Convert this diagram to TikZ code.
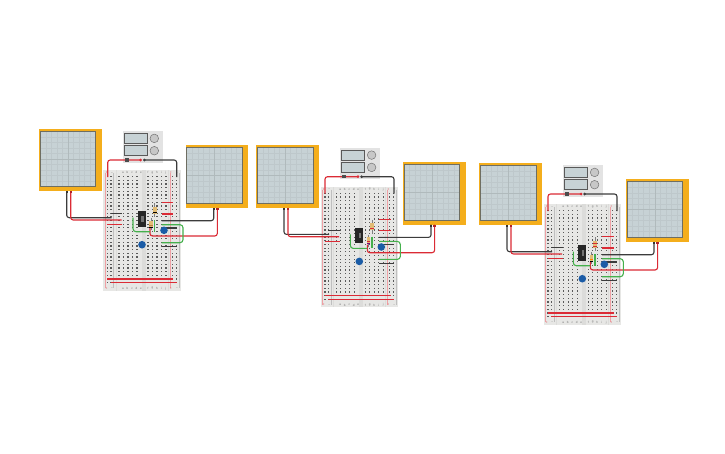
\documentclass[tikz,border=0pt]{standalone}
\usepackage{fontspec}
\setmainfont{Liberation Sans}
\definecolor{scopeor}{HTML}{F4AE1C}
\definecolor{screenc}{HTML}{C7D2D5}
\definecolor{framec}{HTML}{6E6E62}
\definecolor{gridc}{HTML}{B0BABC}
\definecolor{wred}{HTML}{DB2B35}
\definecolor{wblack}{HTML}{3C3C3C}
\definecolor{wgreen}{HTML}{45B04C}
\definecolor{ledblue}{HTML}{1B5CA6}
\definecolor{boardc}{HTML}{E7E7E5}
\definecolor{stripc}{HTML}{DCDCDA}
\definecolor{holec}{HTML}{5A5A5A}
\definecolor{psuc}{HTML}{E3E3E3}
\definecolor{restan}{HTML}{E2BC74}
\tikzset{
 x=1pt,y=-1pt,
 scopebody/.style={fill=scopeor,draw=none,minimum size=62.6pt,inner sep=0pt},
 scopescreen/.style={fill=screenc,draw=none,minimum size=55.2pt,inner sep=0pt},
 wirer/.style={draw=wred,line width=1.1pt,rounded corners=2.5pt},
 wireb/.style={draw=wblack,line width=1.1pt,rounded corners=2.5pt},
 wireg/.style={draw=wgreen,line width=1.1pt,rounded corners=3pt},
 led/.style={circle,fill=ledblue,draw=none,minimum size=7.6pt,inner sep=0pt},
 chip/.style={fill=black!85,draw=none,minimum width=8pt,minimum height=15.4pt,inner sep=0pt},
 resist/.style={fill=restan,draw=none,minimum width=3.6pt,minimum height=7pt,inner sep=0pt},
 tinylab/.style={font=\fontsize{3}{3.5}\selectfont,text=black!55,inner sep=0pt},
 tinyred/.style={font=\fontsize{3}{3.5}\selectfont,text=wred,inner sep=0pt},
 disp/.style={fill=screenc,draw=black!65,line width=.8pt,minimum width=23.4pt,minimum height=10pt,inner sep=0pt},
 knob/.style={circle,fill=black!22,draw=black!55,line width=.5pt,minimum size=8.6pt,inner sep=0pt},
}
\newcommand{\scopeat}[3]{%
  \node[scopebody] (#1b) at (#2,#3) {};
  \node[scopescreen] (#1s) at ([xshift=-2.5pt,yshift=1.1pt]#1b.center) {};
  \foreach \k in {1,...,9}{\draw[gridc!40!screenc,line width=.15pt]
     ([yshift=-5.52*\k pt]#1s.north west)--([yshift=-5.52*\k pt]#1s.north east)
     ([xshift=5.52*\k pt]#1s.north west)--([xshift=5.52*\k pt]#1s.south west);}
  \draw[gridc,line width=.3pt] (#1s.west)--(#1s.east) (#1s.north)--(#1s.south);
  \draw[framec,line width=.9pt] (#1s.north west) rectangle (#1s.south east);
}
\newcommand{\circuit}[5]{%
\begin{scope}[shift={(#2,#3)}]
  \scopeat{#1sa}{70.4}{160}
  \scopeat{#1sb}{217}{176.7}
  \node[fill=psuc,draw=none,minimum width=40pt,minimum height=31.6pt,inner sep=0pt] (#1psu) at (142.7,146.8) {};
  \node[disp] (#1da) at (135.6,138.4) {};
  \node[disp] (#1db) at (135.6,150.5) {};
  \node[knob] (#1ka) at (154.3,138.4) {};
  \node[knob] (#1kb) at (154.3,150.7) {};
  \node[fill=boardc,draw=none,minimum width=77.4pt,minimum height=120.7pt,inner sep=0pt] (#1bb) at (142,230.35) {};
  \fill[stripc] (115.6,170) rectangle (116.6,290.7);
  \fill[stripc] (142,170) rectangle (146,290.7);
  \fill[stripc] (167.5,170) rectangle (168.5,290.7);
  \draw[wred!45,line width=.4pt] (104.8,173)--(104.8,288);
  \draw[black!25,line width=.4pt] (113.6,173)--(113.6,288);
  \draw[wred!45,line width=.4pt] (170.2,173)--(170.2,288);
  \draw[black!25,line width=.4pt] (179.2,173)--(179.2,288);
  \foreach \c in {107.7,111,119,123.5,128,132.5,137,148,152.5,157,161.5,166,172.5,176.5}{
   \foreach \r in {0,...,29}{\fill[holec] (\c-.6,176.7+3.65*\r-.6) rectangle (\c+.6,176.7+3.65*\r+.6);}}
  \foreach \y/\n in {172.6/t,288.4/u}{
   \foreach \c/\t in {123/a,127.5/b,132/c,136.5/d,141/e,148/f,152.5/g,157/h,161.5/i,166/j}{
    \node[tinylab] (#1l\t\n) at (\c,\y) {\t};}
   \node[tinyred] (#1pa\n) at (106.5,\y) {+};
   \node[tinylab] (#1ma\n) at (112,\y) {–};
   \node[tinyred] (#1pb\n) at (171,\y) {+};
   \node[tinylab] (#1mb\n) at (177,\y) {–};}
  \coordinate (#1at) at (66.7,191.3); \coordinate (#1ar) at (70.7,191.3);
  \coordinate (#1bt) at (213.7,208); \coordinate (#1br) at (217.3,208);
  \coordinate (#1pr) at (140.7,160); \coordinate (#1pk) at (144.3,160);
  \coordinate (#1rt) at (107.7,177); \coordinate (#1rk) at (176.7,177);
  \coordinate (#1ab) at (111.7,217.7); \coordinate (#1ae) at (121.7,220);
  \coordinate (#1bb1) at (161.7,220.7); \coordinate (#1bb2) at (150,228);
  \draw[wireb] (#1at) |- (#1ab);
  \draw[wirer] (#1ar) |- (#1ae);
  \draw[wireb] (#1bt) |- (#1bb1);
  \draw[wirer] (#1br) |- (150,236) -- (#1bb2);
  \draw[wirer] (#1rt) |- (#1pr);
  \draw[wireb] (#1pk) -| (#1rk);
  \fill[black!80] ([xshift=-1.2pt]#1at) rectangle ([xshift=1.2pt,yshift=-2pt]#1at);
  \fill[wred!80!black] ([xshift=-1.2pt]#1ar) rectangle ([xshift=1.2pt,yshift=-2pt]#1ar);
  \fill[black!80] ([xshift=-1.2pt]#1bt) rectangle ([xshift=1.2pt,yshift=-2pt]#1bt);
  \fill[wred!80!black] ([xshift=-1.2pt]#1br) rectangle ([xshift=1.2pt,yshift=-2pt]#1br);
  \fill[black!70] (125,158.3) rectangle (129,161.7);
  \fill[wred] (140.7,160) circle (1.5pt);
  \fill[wblack] (144.3,160) circle (1.5pt);
  \draw[wireb] (111,213.7)--(122.3,213.7);
  \draw[wirer] (107.3,224.7)--(122.3,224.7);
  \draw[wirer] (162,202.7)--(173.3,202.7);
  \draw[wirer] (162,214)--(173.3,214);
  \draw[wireb] (161.7,228)--(176.7,228);
  \draw[wireb] (161.7,246.7)--(176.7,246.7);
  \draw[wirer] (107.3,279)--(173.3,279);
  \draw[wirer] (111,282.7)--(176.7,282.7);
  \draw[wireg] (133,217.7) |- (150,231.7);
  \draw[wireg] (154.7,220)--(154.7,231.7);
  \draw[wireg] (161.7,224.7) -| (183,242.7) -- (161.7,242.7);
  \node[chip] (#1ic) at (142,219) {};
  \fill[black!55] (141.4,216) rectangle (143.6,221.5);
  \draw[black!50,line width=.5pt] (154.7,203)--(154.7,217) (151,218)--(151,230);
  \node[resist] (#1ra) at (154.7,210) {};
  \node[resist] (#1rb) at (151,224.2) {};
  \foreach \o/\cc in {#4}{\fill[\cc] (152.9,210+\o-.5) rectangle (156.5,210+\o+.5);}
  \foreach \o/\cc in {#5}{\fill[\cc] (149.2,224.2+\o-.5) rectangle (152.8,224.2+\o+.5);}
  \node[led] (#1la) at (164,230.3) {};
  \node[led] (#1lb) at (142,244.7) {};
\end{scope}}
\begin{document}
\begin{tikzpicture}
\useasboundingbox (0,0) rectangle (725,453);
\fill[white] (0,0) rectangle (725,453);
\circuit{x}{0}{0}{2/black}{1/brown,3/black}
\circuit{y}{217.3}{16.7}{2/wred}{1/wred,3/violet}
\circuit{z}{440.3}{34}{-1/wred,2/wred}{1/orange,3/black}
\end{tikzpicture}
\end{document}
